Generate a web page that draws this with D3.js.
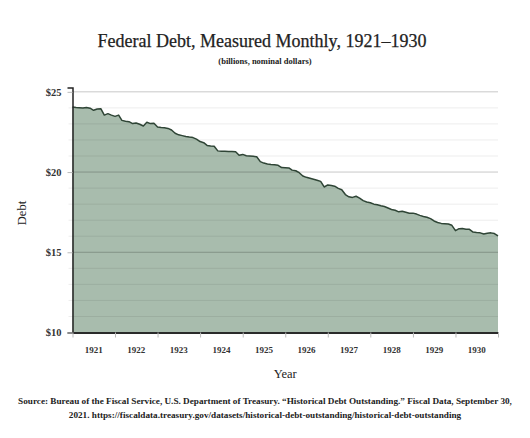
<!DOCTYPE html>
<html>
<head>
<meta charset="utf-8">
<script src="https://cdn.jsdelivr.net/npm/d3@7"></script>
<style>
  html, body { margin: 0; padding: 0; background: #fff; }
  svg { display: block; font-family: "Liberation Serif", "Times New Roman", serif; }
</style>
</head>
<body>
<svg id="chart" width="530" height="438"></svg>
<script>
// ---- Data ----
const title = "Federal Debt, Measured Monthly, 1921\u20131930";
const subtitle = "(billions, nominal dollars)";
const startMonth = "1921-01";
const debt = [
  24.05, 24.02, 24.01, 23.99, 24.03, 23.98, 23.85, 23.93, 23.95, 23.55, 23.64, 23.55,
  23.47, 23.55, 23.22, 23.17, 23.14, 23.02, 23.06, 22.98, 22.87, 23.10, 23.02, 23.04,
  22.81, 22.78, 22.76, 22.72, 22.62, 22.42, 22.32, 22.27, 22.22, 22.18, 22.15, 22.05,
  21.90, 21.83, 21.66, 21.63, 21.61, 21.32, 21.29, 21.29, 21.28, 21.28, 21.27, 21.05,
  21.10, 21.02, 21.00, 20.98, 20.95, 20.65, 20.56, 20.50, 20.47, 20.45, 20.42, 20.28,
  20.27, 20.26, 20.12, 20.08, 19.96, 19.75, 19.67, 19.61, 19.55, 19.49, 19.42, 19.07,
  19.20, 19.16, 19.12, 18.98, 18.90, 18.60, 18.46, 18.42, 18.49, 18.38, 18.22, 18.13,
  18.09, 18.00, 17.96, 17.90, 17.85, 17.76, 17.67, 17.62, 17.52, 17.56, 17.50, 17.43,
  17.44, 17.38, 17.30, 17.23, 17.18, 17.10, 16.95, 16.86, 16.80, 16.78, 16.76, 16.68,
  16.35, 16.47, 16.48, 16.44, 16.43, 16.26, 16.23, 16.21, 16.14, 16.18, 16.21, 16.17,
  16.02
];
const years = [1921, 1922, 1923, 1924, 1925, 1926, 1927, 1928, 1929, 1930];
const yTicks = [10, 15, 20, 25];
const yMinorTicks = [11, 12, 13, 14, 16, 17, 18, 19, 21, 22, 23, 24];
const xLabel = "Year";
const yLabel = "Debt";
const sourceLines = [
  "Source: Bureau of the Fiscal Service, U.S. Department of Treasury. \u201CHistorical Debt Outstanding.\u201D Fiscal Data, September 30,",
  "2021. https://fiscaldata.treasury.gov/datasets/historical-debt-outstanding/historical-debt-outstanding"
];

// ---- Build ----
(function () {
const parse = d3.timeParse("%Y-%m");
const t0 = parse(startMonth);
const data = debt.map((v, i) => ({ date: d3.timeMonth.offset(t0, i), value: v }));

const svg = d3.select("#chart");
const mLeft = 72.5, mRight = 498, mTop = 87.5, mBottom = 332.5;

const x = d3.scaleTime()
  .domain([new Date(years[0], 0, 1), new Date(years[years.length - 1] + 1, 0, 1)])
  .range([mLeft, mRight]);
const y = d3.scaleLinear().domain([10, 25.27]).range([mBottom, mTop]);

// Area
const area = d3.area().x(d => x(d.date)).y0(y(10)).y1(d => y(d.value));
svg.append("path").datum(data).attr("d", area).attr("fill", "#a8bcad");

// Gridlines (on top of fill)
svg.append("g").selectAll("line").data(yMinorTicks).join("line")
  .attr("x1", mLeft - 4).attr("x2", mRight)
  .attr("y1", d => y(d)).attr("y2", d => y(d))
  .attr("stroke", "rgba(0,0,0,0.075)").attr("stroke-width", 1);
svg.append("g").selectAll("line").data(yTicks.filter(d => d !== 10)).join("line")
  .attr("x1", mLeft).attr("x2", mRight)
  .attr("y1", d => y(d)).attr("y2", d => y(d))
  .attr("stroke", "rgba(0,0,0,0.22)").attr("stroke-width", 1);

// Line
const line = d3.line().x(d => x(d.date)).y(d => y(d.value));
svg.append("path").datum(data).attr("d", line)
  .attr("fill", "none").attr("stroke", "#2f4536").attr("stroke-width", 1.5)
  .attr("stroke-linejoin", "round");

// Y axis
const yAxis = d3.axisLeft(y).tickValues(yTicks).tickFormat(d => "$" + d).tickSize(5).tickPadding(6);
const gy = svg.append("g").attr("transform", `translate(${mLeft},0)`).call(yAxis);
gy.select(".domain").attr("stroke", "#222").attr("stroke-width", 1.5);
gy.selectAll(".tick line").attr("stroke", "#bbb");
gy.selectAll(".tick text").attr("font-family", "Liberation Serif, serif").attr("font-size", 10.5)
  .attr("font-weight", "bold").attr("fill", "#333");

// X axis
const yearDates = years.map(yr => new Date(yr, 0, 1)).concat([new Date(years[years.length - 1] + 1, 0, 1)]);
const xAxis = d3.axisBottom(x).tickValues(yearDates).tickFormat("").tickSize(5).tickSizeOuter(0);
const gx = svg.append("g").attr("transform", `translate(0,${mBottom})`).call(xAxis);
gx.select(".domain").attr("stroke", "#2a2a2a").attr("stroke-width", 2.2);
gx.selectAll(".tick line").attr("stroke", "#bbb");

// Year labels centered in bands
svg.append("g").selectAll("text").data(years).join("text")
  .attr("x", d => (x(new Date(d, 0, 1)) + x(new Date(d + 1, 0, 1))) / 2)
  .attr("y", mBottom + 20)
  .attr("text-anchor", "middle")
  .attr("font-size", 9).attr("font-weight", "bold").attr("fill", "#333")
  .text(d => d);

// Titles
svg.append("text").attr("x", 262).attr("y", 47).attr("text-anchor", "middle")
  .attr("font-size", 18).attr("fill", "#222").attr("stroke", "#222").attr("stroke-width", 0.25)
  .text(title);
svg.append("text").attr("x", 265).attr("y", 64).attr("text-anchor", "middle")
  .attr("font-size", 8.5).attr("font-weight", "bold").attr("fill", "#222").text(subtitle);

// Axis labels
svg.append("text").attr("x", (mLeft + mRight) / 2).attr("y", 378).attr("text-anchor", "middle")
  .attr("font-size", 12.5).attr("fill", "#222").text(xLabel);
svg.append("text").attr("transform", `translate(26,${213}) rotate(-90)`).attr("text-anchor", "middle")
  .attr("font-size", 12.5).attr("fill", "#222").text(yLabel);

// Source
svg.append("g").selectAll("text").data(sourceLines).join("text")
  .attr("x", 265).attr("y", (d, i) => 404 + i * 14)
  .attr("text-anchor", "middle")
  .attr("font-size", 9.2).attr("font-weight", "bold").attr("fill", "#222")
  .text(d => d);
})();
</script>
</body>
</html>
